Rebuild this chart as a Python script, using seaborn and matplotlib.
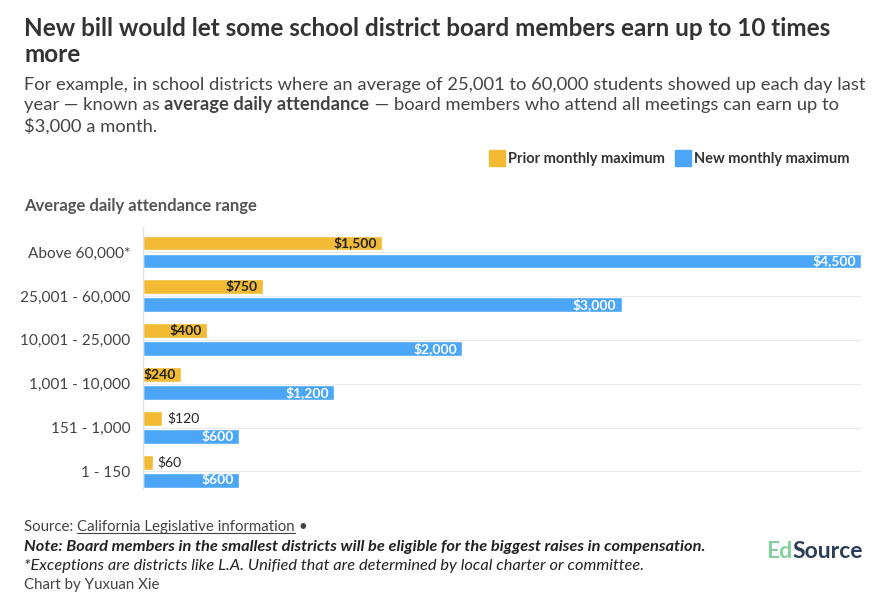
import matplotlib
matplotlib.use("Agg")
import matplotlib.pyplot as plt
from matplotlib.lines import Line2D
import seaborn as sns
import pandas as pd

# data
ranges = ["Above 60,000*", "25,001 - 60,000", "10,001 - 25,000",
          "1,001 - 10,000", "151 - 1,000", "1 - 150"]
prior_max = [1500, 750, 400, 240, 120, 60]
new_max = [4500, 3000, 2000, 1200, 600, 600]
series = ["Prior monthly maximum", "New monthly maximum"]
colors = ["#f2bb33", "#4ba6f7"]

df = pd.DataFrame({
    "range": ranges * 2,
    "value": prior_max + new_max,
    "series": [series[0]] * len(ranges) + [series[1]] * len(ranges),
})

sns.set_theme(style="white")
plt.rcParams["font.family"] = ["Lato", "DejaVu Sans"]

fig = plt.figure(figsize=(8.96, 5.96), dpi=100)
ax = fig.add_axes([143 / 896, 1 - 489 / 596, 718 / 896, 262 / 596])

sns.barplot(data=df, y="range", x="value", hue="series", order=ranges,
            hue_order=series, palette=colors, orient="h", width=0.82, gap=0.17,
            saturation=1, legend=False, ax=ax)

ax.set_xlim(0, 4500)
ax.set_ylim(5.4, -0.57)
ax.set_xlabel("")
ax.set_ylabel("")
ax.set_xticks([])
ax.tick_params(axis="y", length=0, pad=9, labelsize=11.1, labelcolor="#444444")
for sp in ["top", "right", "bottom"]:
    ax.spines[sp].set_visible(False)
ax.spines["left"].set_color("#e3e3e3")
ax.spines["left"].set_linewidth(1)
for i in range(len(ranges)):
    ax.axhline(i, color="#e8e8e8", lw=0.9, zorder=0)
ax.set_axisbelow(True)

# value labels
x_pad = 4500 * 5 / 718
for cont, vals, inside_col in zip(ax.containers, [prior_max, new_max], ["#222222", "white"]):
    for bar, v in zip(cont, vals):
        y = bar.get_y() + bar.get_height() / 2
        txt = f"${v:,}"
        if v >= 200:
            ax.text(v - x_pad, y, txt, ha="right", va="center", fontsize=10,
                    fontweight="bold", color=inside_col)
        else:
            ax.text(v + x_pad, y, txt, ha="left", va="center", fontsize=10,
                    color="#222222")

# legend
handles = [Line2D([], [], marker="s", ls="", markersize=11, color=c) for c in colors]
fig.legend(handles, series, loc="center right", bbox_to_anchor=(0.963, 1 - 159 / 596),
           ncol=2, frameon=False, handletextpad=0.3, columnspacing=0.7,
           handlelength=1.0, labelcolor="#333333", prop={"weight": "bold", "size": 10.5})

# titles
fig.text(24 / 896, 1 - 29 / 596, "New bill would let some school district board members earn up to 10 times",
         fontsize=17.5, fontweight="bold", color="#333333", va="center")
fig.text(24 / 896, 1 - 54 / 596, "more", fontsize=17.5, fontweight="bold",
         color="#333333", va="center")
sub = "#444444"
sub_fs = 13.2
fig.text(24 / 896, 1 - 85 / 596,
         "For example, in school districts where an average of 25,001 to 60,000 students showed up each day last",
         fontsize=sub_fs, color=sub, va="center")
t1 = fig.text(24 / 896, 1 - 105 / 596, "year \u2014 known as ", fontsize=sub_fs, color=sub, va="center")
fig.text(24 / 896, 1 - 126 / 596, "$3,000 a month.", fontsize=sub_fs, color=sub, va="center")
ann2 = ax.annotate("average daily attendance", xy=(1, 0), xycoords=t1, va="bottom",
                   fontsize=sub_fs, fontweight="bold", color=sub, annotation_clip=False)
ax.annotate(" \u2014 board members who attend all meetings can earn up to", xy=(1, 0),
            xycoords=ann2, va="bottom", fontsize=sub_fs, color=sub, annotation_clip=False)

fig.text(24 / 896, 1 - 206 / 596, "Average daily attendance range", fontsize=12,
         fontweight="bold", color="#555555", va="center")

# footer
foot = "#444444"
s1 = fig.text(24 / 896, 1 - 527 / 596, "Source: ", fontsize=10.8, color=foot, va="center")
s2 = ax.annotate("California Legislative information", xy=(1, 0), xycoords=s1, va="bottom",
                 fontsize=10.8, color=foot, annotation_clip=False)
ax.annotate(" \u2022", xy=(1, 0), xycoords=s2, va="bottom", fontsize=10.8, color=foot,
            annotation_clip=False)
fig.text(24 / 896, 1 - 547 / 596,
         "Note: Board members in the smallest districts will be eligible for the biggest raises in compensation.",
         fontsize=11.8, fontweight="bold", fontstyle="italic", color="#222222", va="center")
fig.text(24 / 896, 1 - 566 / 596,
         "*Exceptions are districts like L.A. Unified that are determined by local charter or committee.",
         fontsize=11.8, fontstyle="italic", color="#222222", va="center")
fig.text(24 / 896, 1 - 585 / 596, "Chart by Yuxuan Xie", fontsize=10.8, color=foot, va="center")

# logo
ed = fig.text(766 / 896, 1 - 552 / 596, "Ed", fontsize=16.5, fontweight="bold",
              color="#86d0a0", va="center")
ax.annotate("Source", xy=(1, 0), xycoords=ed, va="bottom", fontsize=16.5, fontweight="bold",
            color="#2c3e55", annotation_clip=False)

# underline the source link
fig.canvas.draw()
bb = s2.get_window_extent().transformed(fig.transFigure.inverted())
fig.add_artist(Line2D([bb.x0, bb.x1], [bb.y0 + 0.002, bb.y0 + 0.002], color=foot, lw=0.8,
                      transform=fig.transFigure))

fig.savefig("out.png", dpi=100)
